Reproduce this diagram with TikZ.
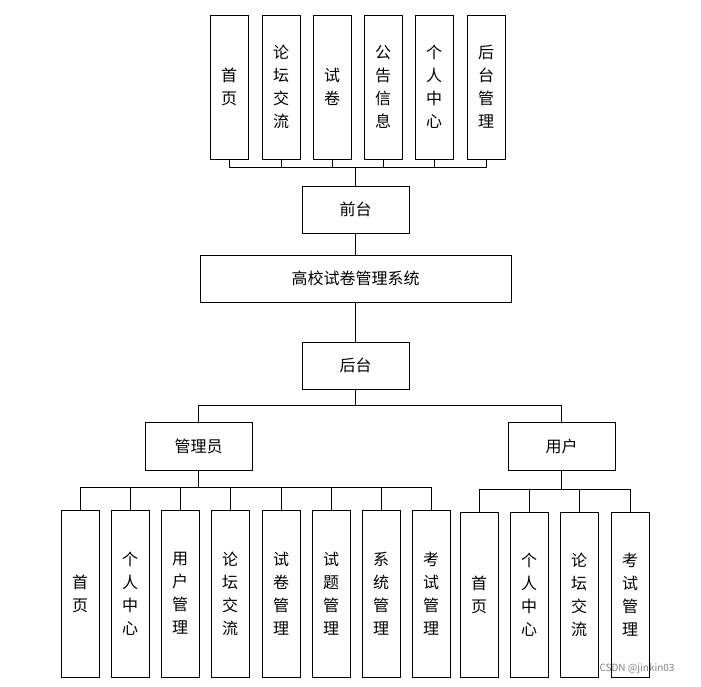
\documentclass[tikz,border=0pt]{standalone}
\usepackage{fontspec}
\setmainfont{Noto Sans CJK SC}
\tikzset{box/.style={draw,line width=0.9pt,inner sep=0pt,align=center,
    font=\fontsize{16}{23}\selectfont},
    vbox/.style={box,minimum width=38pt},
    hbox/.style={box,minimum width=107pt,minimum height=47pt},
    link/.style={line width=0.9pt}}
\begin{document}
\begin{tikzpicture}[x=1pt,y=-1pt]
\useasboundingbox (0,0) rectangle (701,687);
% front side
\foreach \n/\x/\t in {1/229/首\\页,2/281/论\\坛\\交\\流,3/332/试\\卷,
    4/383/公\\告\\信\\息,5/434/个\\人\\中\\心,6/486/后\\台\\管\\理}
    \node[vbox,minimum height=144pt] (top\n) at (\x,87) {\t};
\node[hbox] (qt) at (355.5,209.5) {前台};
\node[box,minimum width=311pt,minimum height=47pt] (sys) at (355.5,278.5) {高校试卷管理系统};
\node[hbox] (ht) at (355.5,365.5) {后台};
\node[hbox,minimum height=48pt] (mgr) at (198.5,446) {管理员};
\node[hbox,minimum height=48pt] (usr) at (561.5,446) {用户};
\coordinate (fbus) at (355.5,167);
\foreach \n in {1,...,6}
    \draw[link] (top\n.south) |- (fbus);
\draw[link] (fbus) -- (qt.north);
\draw[link] (qt) -- (sys);
\draw[link] (sys) -- (ht);
% back side
\coordinate (bbus) at (355.5,405);
\draw[link] (ht.south) -- (bbus);
\draw[link] (mgr.north) |- (bbus);
\draw[link] (usr.north) |- (bbus);
\foreach \n/\x/\t in {1/80/首\\页,2/130/个\\人\\中\\心,3/180/用\\户\\管\\理,
    4/230/论\\坛\\交\\流,5/281/试\\卷\\管\\理,6/331/试\\题\\管\\理,
    7/381/系\\统\\管\\理,8/431/考\\试\\管\\理}
    \node[vbox,minimum height=167pt] (a\n) at (\x,593.5) {\t};
\foreach \n/\x/\t in {1/479/首\\页,2/529/个\\人\\中\\心,3/579/论\\坛\\交\\流,
    4/630/考\\试\\管\\理}
    \node[vbox,minimum height=165pt] (u\n) at (\x,594.5) {\t};
\coordinate (mbus) at (198.5,487);
\coordinate (ubus) at (561.5,489);
\draw[link] (mgr.south) -- (mbus);
\draw[link] (usr.south) -- (ubus);
\foreach \n in {1,...,8}
    \draw[link] (a\n.north) |- (mbus);
\foreach \n in {1,...,4}
    \draw[link] (u\n.north) |- (ubus);
\node[text=gray,font=\fontsize{10}{12}\selectfont] (mark) at (637,669) {CSDN @jinkin03};
\end{tikzpicture}
\end{document}
